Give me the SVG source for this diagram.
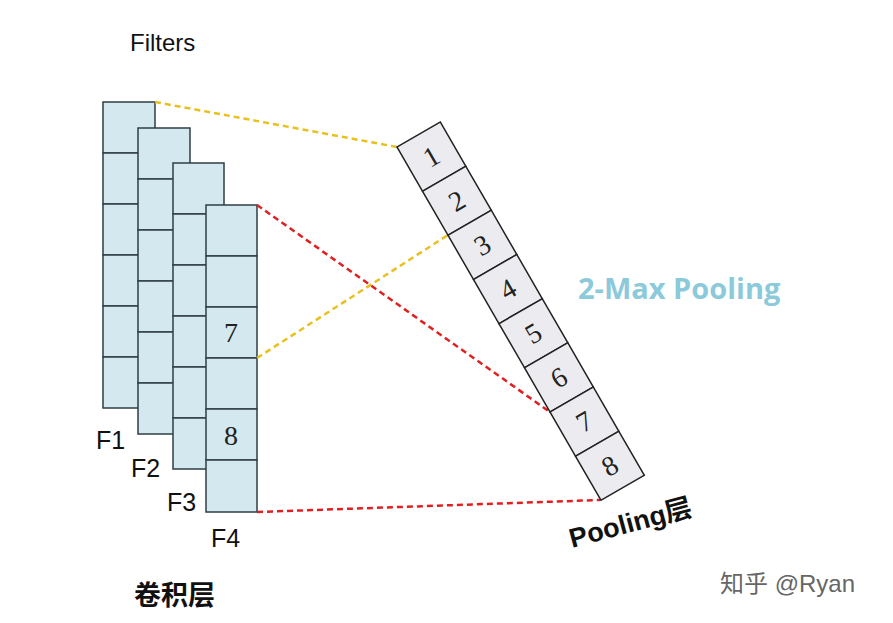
<svg xmlns="http://www.w3.org/2000/svg" width="893" height="623" viewBox="0 0 893 623">
<style>
.c{fill:#d3e8ef;stroke:#2f3e44;stroke-width:1.5}
.p{fill:#ececf0;stroke:#222;stroke-width:1.5}
.l{font-family:"Liberation Sans",Arial,sans-serif;font-size:25px;fill:#111}
.n{font-family:"Liberation Serif","Times New Roman",serif;font-size:28px;fill:#222;text-anchor:middle}
.y{stroke:#e8c020;stroke-width:2.5;stroke-dasharray:6 4;fill:none}
.r{stroke:#e02020;stroke-width:2.5;stroke-dasharray:6 4;fill:none}
</style>
<rect width="893" height="623" fill="#fff"/>
<text class="l" x="130" y="51" style="font-size:24px">Filters</text>
<g id="F1"><rect class="c" x="103" y="102" width="52" height="51"/><rect class="c" x="103" y="153" width="52" height="51"/><rect class="c" x="103" y="204" width="52" height="51"/><rect class="c" x="103" y="255" width="52" height="51"/><rect class="c" x="103" y="306" width="52" height="51"/><rect class="c" x="103" y="357" width="52" height="51"/><text class="l" x="96" y="449">F1</text></g>
<g id="F2"><rect class="c" x="138" y="128" width="52" height="51"/><rect class="c" x="138" y="179" width="52" height="51"/><rect class="c" x="138" y="230" width="52" height="51"/><rect class="c" x="138" y="281" width="52" height="51"/><rect class="c" x="138" y="332" width="52" height="51"/><rect class="c" x="138" y="383" width="52" height="51"/><text class="l" x="131" y="477">F2</text></g>
<g id="F3"><rect class="c" x="173" y="163" width="51" height="51"/><rect class="c" x="173" y="214" width="51" height="51"/><rect class="c" x="173" y="265" width="51" height="51"/><rect class="c" x="173" y="316" width="51" height="51"/><rect class="c" x="173" y="367" width="51" height="51"/><rect class="c" x="173" y="418" width="51" height="51"/><text class="l" x="167" y="511">F3</text></g>
<g id="F4"><rect class="c" x="206" y="205" width="51" height="51"/><rect class="c" x="206" y="256" width="51" height="51"/><rect class="c" x="206" y="307" width="51" height="51"/><rect class="c" x="206" y="358" width="51" height="51"/><rect class="c" x="206" y="409" width="51" height="51"/><rect class="c" x="206" y="460" width="51" height="52"/><text class="n" x="231" y="342">7</text><text class="n" x="231" y="445">8</text><text class="l" x="211" y="547">F4</text></g>
<g id="connectors">
<line class="y" x1="155" y1="102" x2="397" y2="147"/>
<line class="y" x1="257" y1="358" x2="448" y2="235"/>
<line class="r" x1="257" y1="205" x2="550" y2="412"/>
<line class="r" x1="257" y1="512" x2="600" y2="500"/>
</g>
<g id="pooling" transform="translate(397,147) rotate(-30)">
<rect class="p" x="0" y="0" width="50" height="51"/><rect class="p" x="0" y="51" width="50" height="51"/><rect class="p" x="0" y="102" width="50" height="51"/><rect class="p" x="0" y="153" width="50" height="51"/><rect class="p" x="0" y="204" width="50" height="51"/><rect class="p" x="0" y="255" width="50" height="51"/><rect class="p" x="0" y="306" width="50" height="51"/><rect class="p" x="0" y="357" width="50" height="51"/>
<text class="n" x="25" y="35">1</text><text class="n" x="25" y="86">2</text><text class="n" x="25" y="137">3</text><text class="n" x="25" y="188">4</text><text class="n" x="25" y="239">5</text><text class="n" x="25" y="290">6</text><text class="n" x="25" y="341">7</text><text class="n" x="25" y="392">8</text>
</g>
<text x="578" y="299" style="font-family:'Open Sans','Liberation Sans',sans-serif;font-size:29px;font-weight:bold;fill:#8ccadb">2-Max Pooling</text>
<text transform="translate(572,548) rotate(-15)" style="font-family:'Liberation Sans','Noto Sans CJK SC',sans-serif;font-size:27px;font-weight:bold;fill:#111">Pooling层</text>
<text x="134" y="605" style="font-family:'Noto Sans CJK SC',sans-serif;font-size:27px;font-weight:bold;fill:#111">卷积层</text>
<text x="720" y="592" style="font-family:'Liberation Sans','Noto Sans CJK SC',sans-serif;font-size:24px;fill:#666">知乎 @Ryan</text>
</svg>
